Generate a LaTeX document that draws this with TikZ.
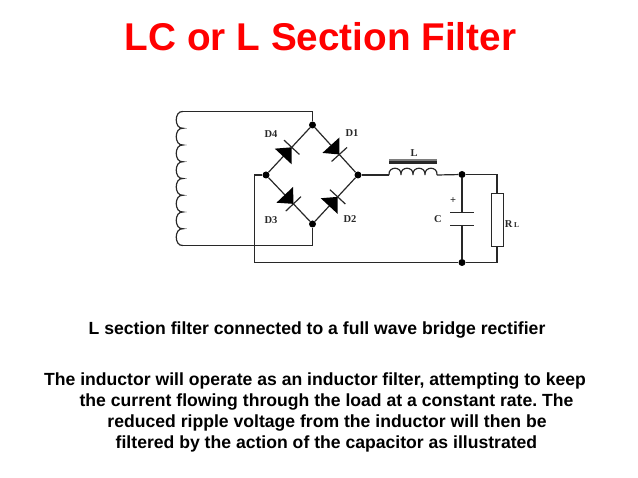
\documentclass[tikz,border=0pt]{standalone}
\usepackage{fontspec}
\setmainfont{Liberation Sans}
\newfontfamily\labelfont{Liberation Serif}
\usetikzlibrary{positioning}
\definecolor{titlered}{RGB}{255,0,0}
\definecolor{wirecol}{RGB}{40,40,40}
\begin{document}
\frenchspacing
\begin{tikzpicture}[
    x=1pt, y=-1pt,
    wire/.style={draw=wirecol, line width=1.2pt},
    junction/.style={circle, fill=black, inner sep=0pt, minimum size=7pt},
    partlabel/.style={font=\labelfont\bfseries\fontsize{10.5}{12}\selectfont, text=wirecol, inner sep=0pt},
    bodytext/.style={font=\bfseries\fontsize{17.6}{20}\selectfont, inner sep=0pt, anchor=base},
    diode/.pic={
        \fill[black] (0,0) -- (-12.5,-11.5) -- (-12.5,11.5) -- cycle;
        \draw[wire] (0,-10.5) -- (0,10.5);
    }
]
\useasboundingbox (0,0) rectangle (638,478);

\node[font=\bfseries\fontsize{38.7}{44}\selectfont, text=titlered, inner sep=0pt, anchor=base] (title) at (320.5,51) {LC or L Section Filter};

% bridge
\node[junction] (top) at (312.5,125) {};
\node[junction] (left) at (266,175) {};
\node[junction] (bottom) at (312.5,224) {};
\node[junction] (right) at (358,175) {};

\draw[wire] (left) -- pic[pos=.56, sloped] {diode} (top);
\draw[wire] (top) -- pic[pos=.6, sloped] {diode} (right);
\draw[wire] (left) -- pic[pos=.6, sloped] {diode} (bottom);
\draw[wire] (bottom) -- pic[pos=.56, sloped] {diode} (right);

\node[partlabel] (dfour) at (271,134) {D4};
\node[partlabel] (done) at (352,133) {D1};
\node[partlabel] (dthree) at (271,220) {D3};
\node[partlabel] (dtwo) at (350,219) {D2};

% transformer secondary
\coordinate (sectop) at (183,111.5);
\coordinate (secbot) at (183,245.5);
\draw[wire] (top) |- (sectop);
\draw[wire] (bottom) |- (secbot);
\draw[wire] (sectop)
    \foreach \i in {0,...,7} {
        .. controls +(-9,-1) and +(-9,1) .. ++(0,16.75)
    };

% choke
\coordinate (lstart) at (389,175);
\coordinate (lend) at (437,175);
\node[junction] (ctop) at (462,174.5) {};
\draw[wire] (right) -- (lstart);
\draw[wire] (lstart)
    \foreach \i in {0,...,3} {
        .. controls +(-1,-9) and +(1,-9) .. ++(12,0)
    };
\draw[wire] (lend) -- (ctop);
\fill[wirecol!60] (389,159) rectangle (437,161);
\fill[wirecol] (389,161.5) rectangle (437,164);
\node[partlabel] (lname) at (414,153) {L};

% capacitor
\node[junction] (cbot) at (462,262.5) {};
\coordinate (cplus) at (462,212);
\coordinate (cminus) at (462,225);
\draw[wire] (ctop) -- (cplus);
\draw[wire] (cminus) -- (cbot);
\draw[wire] (450,212.5) -- (474,212.5);
\draw[wire] (450,225.5) -- (474,225.5);
\node[partlabel] (plus) at (453,201) {+};
\node[partlabel] (cname) at (438,219) {C};

% load
\node[draw=wirecol, line width=1pt, minimum width=12pt, minimum height=53pt, inner sep=0pt] (rload) at (497,220.5) {};
\coordinate (rtop) at (497,174.5);
\coordinate (rbot) at (497,262.5);
\draw[wire] (ctop) -- (rtop) -- (rload.north);
\draw[wire] (rload.south) -- (rbot) -- (cbot);
\node[partlabel] (rname) at (512,224) {R\,{\fontsize{7.5}{8}\selectfont L}};

% return
\coordinate (retleft) at (254.5,175);
\coordinate (retbot) at (254.5,262.5);
\draw[wire] (left) -- (retleft) -- (retbot) -- (cbot);

% text
\node[bodytext] (caption) at (317,335) {L section filter connected to a full wave bridge rectifier};
\node[bodytext] (lineone) at (315,386) {The inductor will operate as an inductor filter, attempting to keep};
\node[bodytext] (linetwo) at (326.5,407) {the current flowing through the load at a constant rate. The};
\node[bodytext] (linethree) at (327,428) {reduced ripple voltage from the inductor will then be};
\node[bodytext] (linefour) at (326.5,449) {filtered by the action of the capacitor as illustrated};
\end{tikzpicture}
\end{document}
